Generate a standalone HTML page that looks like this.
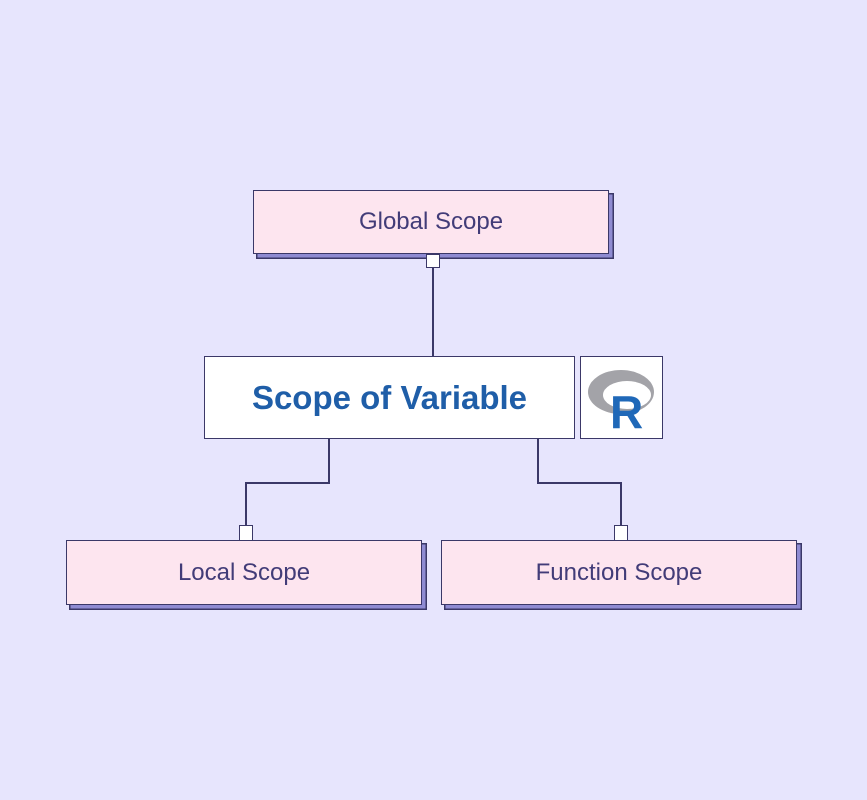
<!DOCTYPE html>
<html><head><style>
body{margin:0;width:867px;height:800px;background:#e7e5fd;position:relative;overflow:hidden;font-family:"Liberation Sans",sans-serif}
.b{position:absolute;box-sizing:border-box;border:1.5px solid #3b3868;display:flex;align-items:center;justify-content:center}
.p{background:#fde5ef;color:#423c78;font-size:24px;box-shadow:4px 4px 0 -0.5px #8f8bd2,4px 4px 0 1px #3b3868}
.l{position:absolute;background:#3b3868}
.sq{position:absolute;width:14px;height:14px;box-sizing:border-box;border:1.5px solid #3b3868;background:#fff;z-index:2}
</style></head><body>
<div class="b p" style="left:253px;top:190px;width:356px;height:64px">Global Scope</div>
<div class="l" style="left:432px;top:266px;width:1.5px;height:90px"></div>
<div class="sq" style="left:426px;top:254px"></div>
<div class="b" style="left:204px;top:356px;width:371px;height:83px;background:#fff;color:#1f5ea8;font-weight:bold;font-size:33px">Scope of Variable</div>
<div class="b" style="left:580px;top:356px;width:83px;height:83px;background:#fff">
<svg width="72" height="64" viewBox="0 0 72 64"><ellipse cx="35" cy="26" rx="33" ry="22" fill="#a3a3a8"/><ellipse cx="41" cy="29" rx="24" ry="14" fill="#fff"/><text x="24" y="62" font-family="Liberation Sans" font-weight="bold" font-size="46" fill="#1f68b8">R</text></svg></div>
<div class="l" style="left:328px;top:438px;width:1.5px;height:45px"></div>
<div class="l" style="left:245px;top:482px;width:85px;height:1.5px"></div>
<div class="l" style="left:245px;top:482px;width:1.5px;height:45px"></div>
<div class="sq" style="left:239px;top:525px;height:16px"></div>
<div class="l" style="left:537px;top:438px;width:1.5px;height:45px"></div>
<div class="l" style="left:537px;top:482px;width:85px;height:1.5px"></div>
<div class="l" style="left:620px;top:482px;width:1.5px;height:45px"></div>
<div class="sq" style="left:614px;top:525px;height:16px"></div>
<div class="b p" style="left:66px;top:540px;width:356px;height:65px">Local Scope</div>
<div class="b p" style="left:441px;top:540px;width:356px;height:65px">Function Scope</div>
</body></html>
